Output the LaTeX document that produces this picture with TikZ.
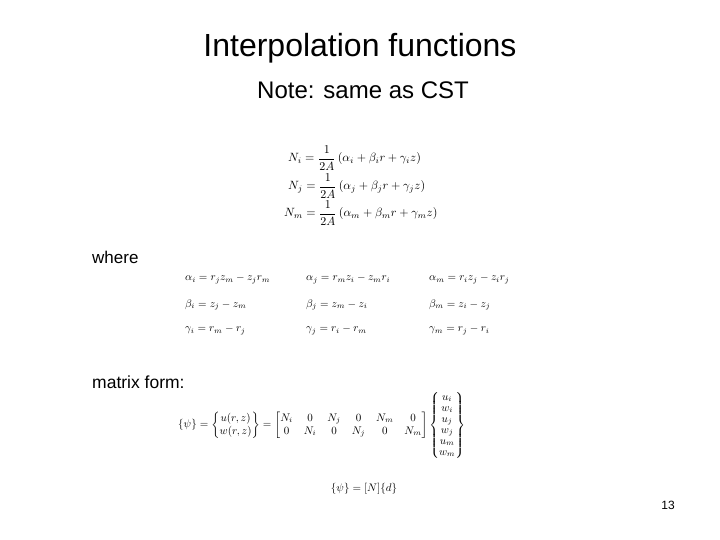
\documentclass[tikz,border=0pt]{standalone}
\usepackage{amsmath}
\usepackage{fontspec}
\setmainfont{Liberation Sans}
\begin{document}
\begin{tikzpicture}[x=1pt,y=-1pt,
  txt/.style={inner sep=0pt},
  eq/.style={inner sep=0pt,transform shape,scale=1.2},
  eqs/.style={inner sep=0pt,transform shape,scale=1.1}]
\useasboundingbox (0,0) rectangle (720,540);
\node[txt,font=\fontsize{32}{36}\selectfont] (title) at (360,48) {Interpolation functions};
\node[txt,font=\fontsize{24}{28}\selectfont] (note) at (363,90) {Note: same as CST};
\node[eq,anchor=west] (ni) at (288,158) {$N_i=\dfrac{1}{2A}\,(\alpha_i+\beta_i r+\gamma_i z)$};
\node[eq,anchor=west] (nj) at (288,186) {$N_j=\dfrac{1}{2A}\,(\alpha_j+\beta_j r+\gamma_j z)$};
\node[eq,anchor=west] (nm) at (284,213) {$N_m=\dfrac{1}{2A}\,(\alpha_m+\beta_m r+\gamma_m z)$};
\node[txt,anchor=west,font=\fontsize{17}{20}\selectfont] (where) at (92,257) {where};
\node[eqs,anchor=west] (ai) at (185,279) {$\alpha_i=r_jz_m-z_jr_m$};
\node[eqs,anchor=west] (aj) at (306,279) {$\alpha_j=r_mz_i-z_mr_i$};
\node[eqs,anchor=west] (am) at (429,279) {$\alpha_m=r_iz_j-z_ir_j$};
\node[eqs,anchor=west] (bi) at (185,305) {$\beta_i=z_j-z_m$};
\node[eqs,anchor=west] (bj) at (306,305) {$\beta_j=z_m-z_i$};
\node[eqs,anchor=west] (bm) at (429,305) {$\beta_m=z_i-z_j$};
\node[eqs,anchor=west] (gi) at (185,330) {$\gamma_i=r_m-r_j$};
\node[eqs,anchor=west] (gj) at (306,330) {$\gamma_j=r_i-r_m$};
\node[eqs,anchor=west] (gm) at (429,330) {$\gamma_m=r_j-r_i$};
\node[txt,anchor=west,font=\fontsize{17.5}{20}\selectfont] (mf) at (92,382) {matrix form:};
\node[eqs,anchor=west] (mat) at (178,425) {$\{\psi\}=\left\{\begin{matrix}u(r,z)\\ w(r,z)\end{matrix}\right\}=\begin{bmatrix}N_i&0&N_j&0&N_m&0\\0&N_i&0&N_j&0&N_m\end{bmatrix}\left\{\begin{matrix}u_i\\[-2pt] w_i\\[-2pt] u_j\\[-2pt] w_j\\[-2pt] u_m\\[-2pt] w_m\end{matrix}\right\}$};
\node[eqs] (fin) at (364,489) {$\{\psi\}=[N]\{d\}$};
\node[txt,font=\fontsize{12}{14}\selectfont] (pg) at (668,505) {13};
\end{tikzpicture}
\end{document}
